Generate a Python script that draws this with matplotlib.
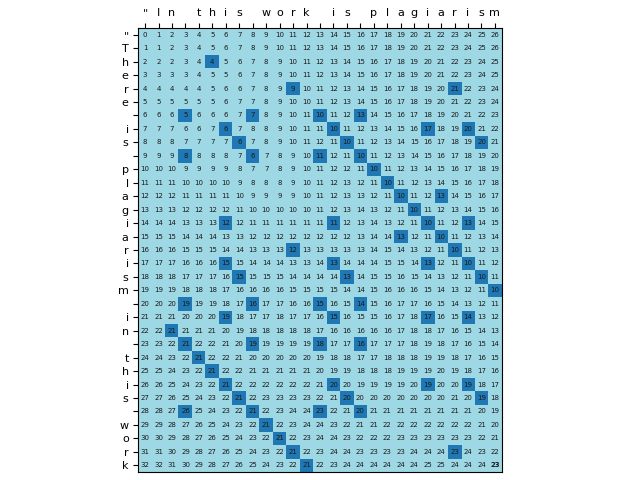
import numpy as np
import matplotlib
matplotlib.use('Agg')
import matplotlib.pyplot as plt
from matplotlib.colors import ListedColormap

# the two sentences compared (one character per column / row)
col_chars = list('"In this work is plagiarism')
row_chars = list('"There is plagiarism in this work')

# distance values, one list per row
dist_rows = [
    [0, 1, 2, 3, 4, 5, 6, 7, 8, 9, 10, 11, 12, 13, 14, 15, 16, 17, 18, 19, 20, 21, 22, 23, 24, 25, 26],
    [1, 1, 2, 3, 4, 5, 6, 7, 8, 9, 10, 11, 12, 13, 14, 15, 16, 17, 18, 19, 20, 21, 22, 23, 24, 25, 26],
    [2, 2, 2, 3, 4, 4, 5, 6, 7, 8, 9, 10, 11, 12, 13, 14, 15, 16, 17, 18, 19, 20, 21, 22, 23, 24, 25],
    [3, 3, 3, 3, 4, 5, 5, 6, 7, 8, 9, 10, 11, 12, 13, 14, 15, 16, 17, 18, 19, 20, 21, 22, 23, 24, 25],
    [4, 4, 4, 4, 4, 5, 6, 6, 7, 8, 9, 9, 10, 11, 12, 13, 14, 15, 16, 17, 18, 19, 20, 21, 22, 23, 24],
    [5, 5, 5, 5, 5, 5, 6, 7, 7, 8, 9, 10, 10, 11, 12, 13, 14, 15, 16, 17, 18, 19, 20, 21, 22, 23, 24],
    [6, 6, 6, 5, 6, 6, 6, 7, 7, 8, 9, 10, 11, 10, 11, 12, 13, 14, 15, 16, 17, 18, 19, 20, 21, 22, 23],
    [7, 7, 7, 6, 6, 7, 6, 7, 8, 8, 9, 10, 11, 11, 10, 11, 12, 13, 14, 15, 16, 17, 18, 19, 20, 21, 22],
    [8, 8, 8, 7, 7, 7, 7, 6, 7, 8, 9, 10, 11, 12, 11, 10, 11, 12, 13, 14, 15, 16, 17, 18, 19, 20, 21],
    [9, 9, 9, 8, 8, 8, 8, 7, 6, 7, 8, 9, 10, 11, 12, 11, 10, 11, 12, 13, 14, 15, 16, 17, 18, 19, 20],
    [10, 10, 10, 9, 9, 9, 9, 8, 7, 7, 8, 9, 10, 11, 12, 12, 11, 10, 11, 12, 13, 14, 15, 16, 17, 18, 19],
    [11, 11, 11, 10, 10, 10, 10, 9, 8, 8, 8, 9, 10, 11, 12, 13, 12, 11, 10, 11, 12, 13, 14, 15, 16, 17, 18],
    [12, 12, 12, 11, 11, 11, 11, 10, 9, 9, 9, 9, 10, 11, 12, 13, 13, 12, 11, 10, 11, 12, 13, 14, 15, 16, 17],
    [13, 13, 13, 12, 12, 12, 12, 11, 10, 10, 10, 10, 10, 11, 12, 13, 14, 13, 12, 11, 10, 11, 12, 13, 14, 15, 16],
    [14, 14, 14, 13, 13, 13, 12, 12, 11, 11, 11, 11, 11, 11, 11, 12, 13, 14, 13, 12, 11, 10, 11, 12, 13, 14, 15],
    [15, 15, 15, 14, 14, 14, 13, 13, 12, 12, 12, 12, 12, 12, 12, 12, 13, 14, 14, 13, 12, 11, 10, 11, 12, 13, 14],
    [16, 16, 16, 15, 15, 15, 14, 14, 13, 13, 13, 12, 13, 13, 13, 13, 13, 14, 15, 14, 13, 12, 11, 10, 11, 12, 13],
    [17, 17, 17, 16, 16, 16, 15, 15, 14, 14, 14, 13, 13, 14, 13, 14, 14, 14, 15, 15, 14, 13, 12, 11, 10, 11, 12],
    [18, 18, 18, 17, 17, 17, 16, 15, 15, 15, 15, 14, 14, 14, 14, 13, 14, 15, 15, 16, 15, 14, 13, 12, 11, 10, 11],
    [19, 19, 19, 18, 18, 18, 17, 16, 16, 16, 16, 15, 15, 15, 15, 14, 14, 15, 16, 16, 16, 15, 14, 13, 12, 11, 10],
    [20, 20, 20, 19, 19, 19, 18, 17, 16, 17, 17, 16, 16, 15, 16, 15, 14, 15, 16, 17, 17, 16, 15, 14, 13, 12, 11],
    [21, 21, 21, 20, 20, 20, 19, 18, 17, 17, 18, 17, 17, 16, 15, 16, 15, 15, 16, 17, 18, 17, 16, 15, 14, 13, 12],
    [22, 22, 21, 21, 21, 21, 20, 19, 18, 18, 18, 18, 18, 17, 16, 16, 16, 16, 16, 17, 18, 18, 17, 16, 15, 14, 13],
    [23, 23, 22, 21, 22, 22, 21, 20, 19, 19, 19, 19, 19, 18, 17, 17, 16, 17, 17, 17, 18, 19, 18, 17, 16, 15, 14],
    [24, 24, 23, 22, 21, 22, 22, 21, 20, 20, 20, 20, 20, 19, 18, 18, 17, 17, 18, 18, 18, 19, 19, 18, 17, 16, 15],
    [25, 25, 24, 23, 22, 21, 22, 22, 21, 21, 21, 21, 21, 20, 19, 19, 18, 18, 18, 19, 19, 19, 20, 19, 18, 17, 16],
    [26, 26, 25, 24, 23, 22, 21, 22, 22, 22, 22, 22, 22, 21, 20, 20, 19, 19, 19, 19, 20, 19, 20, 20, 19, 18, 17],
    [27, 27, 26, 25, 24, 23, 22, 21, 22, 23, 23, 23, 23, 22, 21, 20, 20, 20, 20, 20, 20, 20, 20, 21, 20, 19, 18],
    [28, 28, 27, 26, 25, 24, 23, 22, 21, 22, 23, 24, 24, 23, 22, 21, 20, 21, 21, 21, 21, 21, 21, 21, 21, 20, 19],
    [29, 29, 28, 27, 26, 25, 24, 23, 22, 21, 22, 23, 24, 24, 23, 22, 21, 21, 22, 22, 22, 22, 22, 22, 22, 21, 20],
    [30, 30, 29, 28, 27, 26, 25, 24, 23, 22, 21, 22, 23, 24, 24, 23, 22, 22, 22, 23, 23, 23, 23, 23, 23, 22, 21],
    [31, 31, 30, 29, 28, 27, 26, 25, 24, 23, 22, 21, 22, 23, 24, 24, 23, 23, 23, 23, 24, 24, 24, 23, 24, 23, 22],
    [32, 32, 31, 30, 29, 28, 27, 26, 25, 24, 23, 22, 21, 22, 23, 24, 24, 24, 24, 24, 24, 25, 25, 24, 24, 24, 23],
]

dist = np.array(dist_rows)
n_rows, n_cols = dist.shape

# cells where the row and column characters are the same get the dark colour
match = np.zeros_like(dist)
for i in range(1, n_rows):
    for j in range(1, n_cols):
        if row_chars[i] == col_chars[j]:
            match[i, j] = 1

fig = plt.figure(figsize=(6.4, 4.8), dpi=100)
ax = fig.add_axes([0.05, 0.0167, 0.9, 0.925])
cmap = ListedColormap(['#9ed8e4', '#1f77b4'])
ax.imshow(match, cmap=cmap, vmin=0, vmax=1, aspect='equal')

for i in range(n_rows):
    for j in range(n_cols):
        last = (i == n_rows - 1 and j == n_cols - 1)
        ax.text(j, i, str(dist[i, j]), ha='center', va='center', fontsize=5,
                color='#1a1a1a', fontweight='bold' if last else 'normal')

ax.set_xticks(range(n_cols))
ax.set_xticklabels(col_chars, fontsize=8)
ax.set_yticks(range(n_rows))
ax.set_yticklabels(row_chars, fontsize=8)
ax.xaxis.tick_top()

fig.savefig('out.png', dpi=100)
